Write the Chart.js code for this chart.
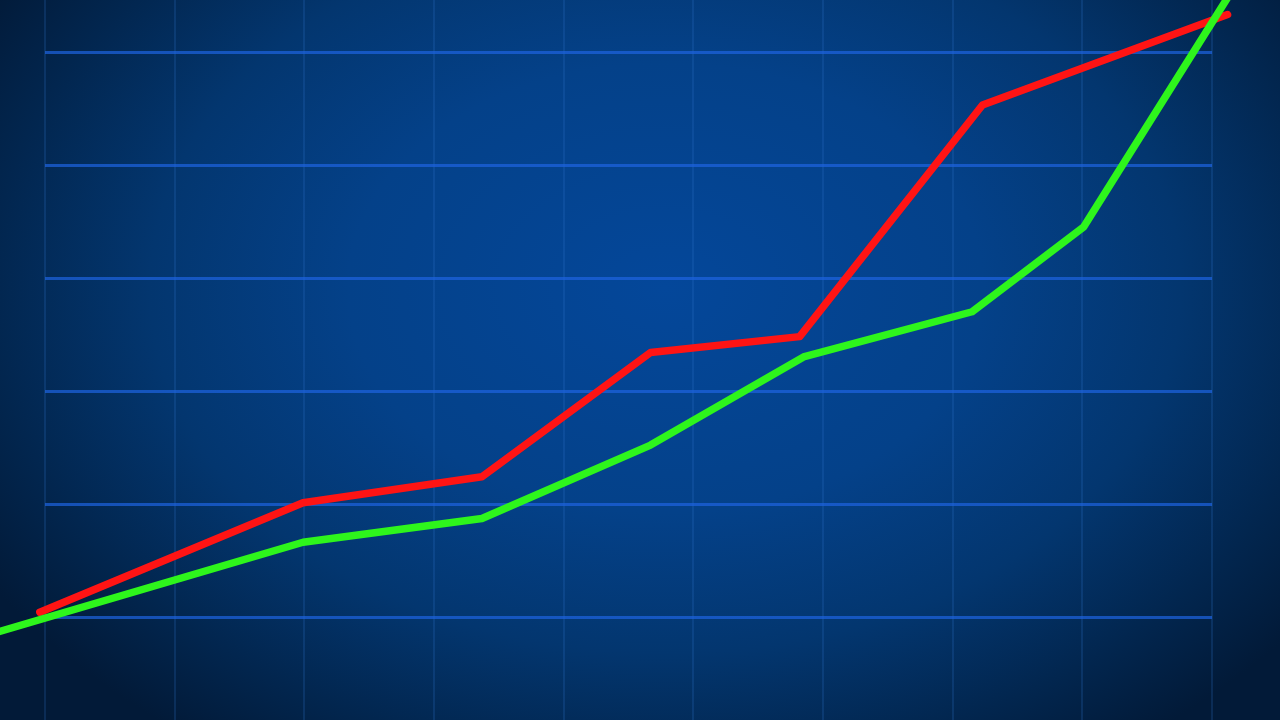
<!DOCTYPE html>
<html>
<head>
<meta charset="utf-8">
<script src="https://cdn.jsdelivr.net/npm/chart.js@4"></script>
<style>
  html, body { margin: 0; padding: 0; width: 1280px; height: 720px; overflow: hidden; }
  body {
    background:
      radial-gradient(ellipse 62% 78% at 52% 40%, #04479a 0%, #044189 40%, #03366f 65%, #02264f 85%, #021a38 100%);
  }
  #wrap { position: absolute; left: 0; top: 0; width: 1280px; height: 720px; }
</style>
</head>
<body>
<div id="wrap"><canvas id="c" width="1280" height="720"></canvas></div>
<script>
// Data (x in grid-column units, y in value units)
const redX   = [-0.04, 1.99, 3.37, 4.67, 5.82, 7.23, 9.12];
const redY   = [10.5, 20.2, 22.5, 33.5, 34.9, 55.4, 63.4];
const greenX = [-0.35, 1.99, 3.37, 4.67, 5.85, 7.15, 8.01, 9.17];
const greenY = [8.8, 16.7, 18.8, 25.3, 33.1, 37.1, 44.6, 65.8];
const xTicks = [0, 1, 2, 3, 4, 5, 6, 7, 8, 9];
const yTicks = [10, 20, 30, 40, 50, 60];

const toPts = (xs, ys) => xs.map((x, i) => ({ x: x, y: ys[i] }));

new Chart(document.getElementById('c'), {
  type: 'line',
  data: {
    datasets: [
      {
        label: 'Green',
        data: toPts(greenX, greenY),
        borderColor: '#2ef51c',
        borderWidth: 7.5,
        pointRadius: 0,
        tension: 0,
        clip: false,
        borderJoinStyle: 'round',
        borderCapStyle: 'round'
      },
      {
        label: 'Red',
        data: toPts(redX, redY),
        borderColor: '#ff1414',
        borderWidth: 7.5,
        pointRadius: 0,
        tension: 0,
        clip: false,
        borderJoinStyle: 'round',
        borderCapStyle: 'round'
      }
    ]
  },
  options: {
    responsive: false,
    animation: false,
    layout: { padding: { left: 45, right: 68, top: 0, bottom: 0 } },
    plugins: { legend: { display: false }, tooltip: { enabled: false } },
    scales: {
      x: {
        type: 'linear',
        min: 0,
        max: 9,
        afterBuildTicks: axis => { axis.ticks = xTicks.map(v => ({ value: v })); },
        ticks: { display: false },
        border: { display: false },
        grid: { color: 'rgba(50,120,210,0.2)', lineWidth: 2, drawTicks: false }
      },
      y: {
        type: 'linear',
        min: 0.97,
        max: 64.69,
        afterBuildTicks: axis => { axis.ticks = yTicks.map(v => ({ value: v })); },
        ticks: { display: false },
        border: { display: false },
        grid: { color: 'rgba(30,100,225,0.7)', lineWidth: 3, drawTicks: false }
      }
    }
  }
});
</script>
</body>
</html>
